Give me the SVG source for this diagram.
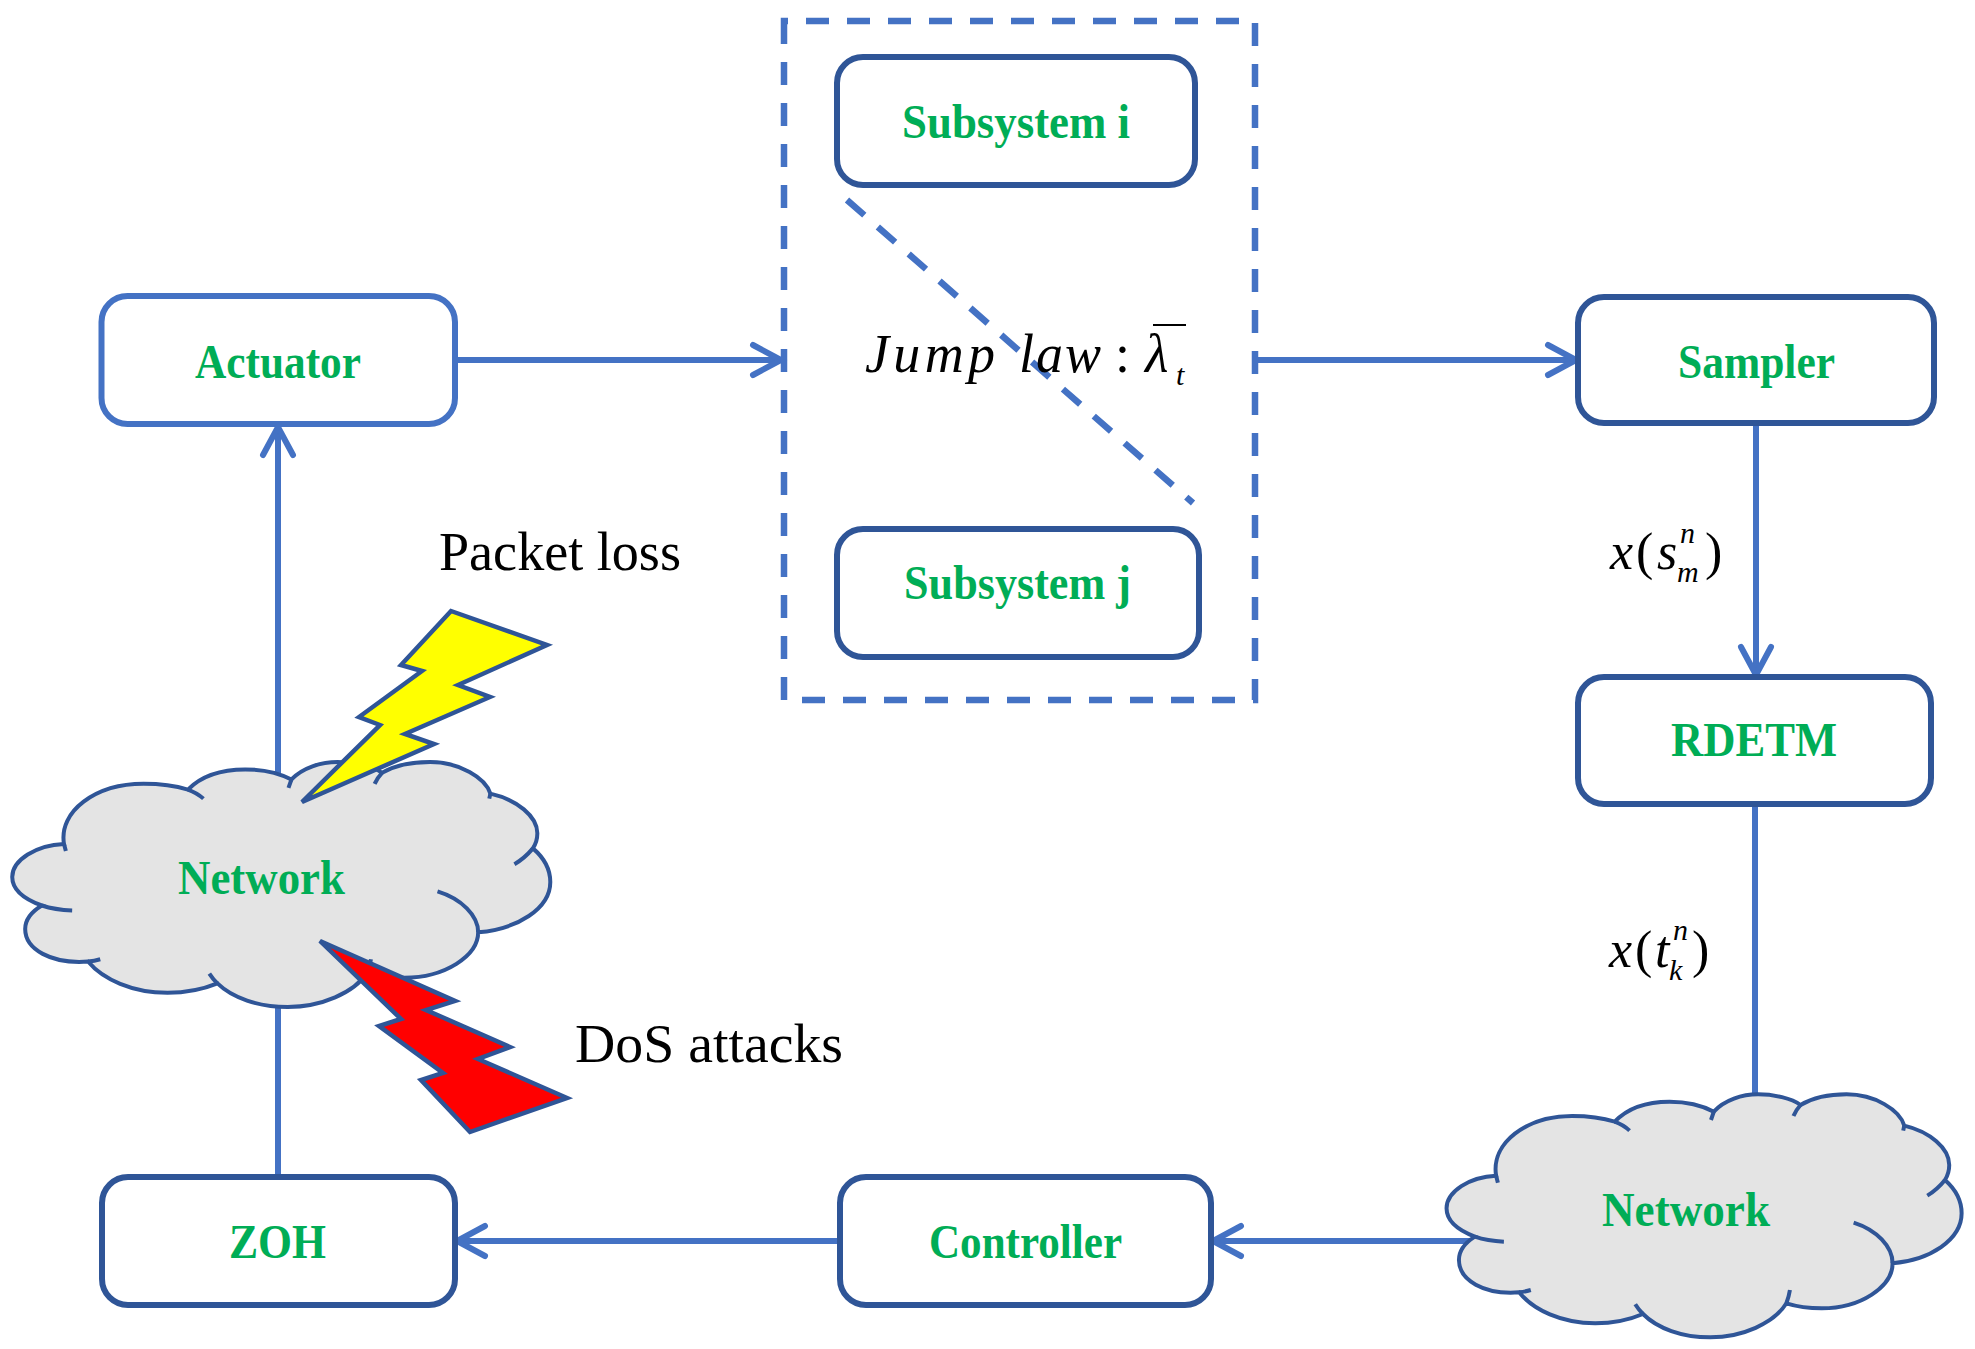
<svg xmlns="http://www.w3.org/2000/svg" width="1975" height="1349" viewBox="0 0 1975 1349">
<style>
.box{fill:#fff;stroke:#2F5597;stroke-width:6}
.box2{fill:#fff;stroke:#4472C4;stroke-width:6}
.lbl{font-family:"Liberation Serif","Times New Roman",serif;font-weight:bold;font-size:48px;fill:#00AD56}
.blk{font-family:"Liberation Serif","Times New Roman",serif;font-size:55px;fill:#000}
.math{font-family:"Liberation Serif","Times New Roman",serif;font-style:italic;fill:#000}
.conn{fill:none;stroke:#4472C4;stroke-width:6}
.dash{fill:none;stroke:#4472C4;stroke-width:6.500;stroke-dasharray:23 18}
.bolt{stroke:#2F5597;stroke-width:4.500;stroke-linejoin:miter}
.cloudfill{fill:#E4E4E4;stroke:#2F5597;stroke-width:4;vector-effect:non-scaling-stroke}
.cloudline{fill:none;stroke:#2F5597;stroke-width:4;vector-effect:non-scaling-stroke}
</style>
<defs>
<marker id="open" markerUnits="userSpaceOnUse" markerWidth="44" markerHeight="44" viewBox="-36 -22 44 44" refX="0" refY="0" orient="auto">
<path d="M-28,-15 L0,0 L-28,15" fill="none" stroke="#4472C4" stroke-width="6" stroke-linecap="round" stroke-linejoin="miter"/>
</marker>
<g id="cloud">
<path class="cloudfill" d="M155,530C105,510 75,480 75,445C75,395 140,350 215,347C200,250 300,168 430,168C480,168 520,175 550,185C590,140 650,125 705,125C755,125 800,138 830,155C860,120 910,103 955,103C1000,103 1050,115 1075,135C1110,113 1160,103 1205,103C1285,103 1355,150 1368,197C1440,215 1495,265 1495,315C1495,330 1490,348 1483,360C1515,390 1530,425 1530,460C1530,540 1440,600 1335,610C1335,680 1245,745 1135,745C1100,745 1065,740 1035,730C1000,790 910,832 820,832C740,832 670,805 630,762C590,780 540,790 495,790C400,790 320,750 280,697C180,705 110,660 110,600C110,575 125,550 155,530Z"/>
<path class="cloudline" d="M155,530Q190,543 237,545M215,347L220,368M550,185Q575,195 592,212M830,155L822,180M1075,135Q1062,150 1055,168M1368,197L1365,212M1483,360Q1460,390 1433,407M1335,610C1335,560 1290,510 1225,488M1035,730Q1042,710 1045,690M630,762Q618,750 608,733M280,697Q297,695 313,690"/>
</g>
</defs>
<rect width="1975" height="1349" fill="#fff"/>
<g id="connectors">
<path class="conn" d="M455,360H781" marker-end="url(#open)"/>
<path class="conn" d="M1255,360H1576" marker-end="url(#open)"/>
<path class="conn" d="M1756,423V675" marker-end="url(#open)"/>
<path class="conn" d="M1755,804V1100"/>
<path class="conn" d="M1480,1241H1213" marker-end="url(#open)"/>
<path class="conn" d="M840,1241H457" marker-end="url(#open)"/>
<path class="conn" d="M278,1177V1000"/>
<path class="conn" d="M278,800V427" marker-end="url(#open)"/>
</g>
<g id="jump-group">
<rect class="dash" x="784" y="21" width="471" height="679" stroke-dashoffset="19"/>
<path class="dash" d="M847,200L1193,503"/>
</g>
<g id="subsystem-i"><rect class="box" x="837" y="57" width="358" height="128" rx="26"/><text class="lbl" x="902" y="138" textLength="228" lengthAdjust="spacingAndGlyphs">Subsystem i</text></g>
<g id="subsystem-j"><rect class="box" x="837" y="529" width="362" height="128" rx="26"/><text class="lbl" x="904" y="599" textLength="227" lengthAdjust="spacingAndGlyphs">Subsystem j</text></g>
<g id="actuator"><rect class="box2" x="101.500" y="296" width="353.500" height="128" rx="26"/><text class="lbl" x="195" y="378" textLength="166" lengthAdjust="spacingAndGlyphs">Actuator</text></g>
<g id="sampler"><rect class="box" x="1578" y="297" width="356" height="126" rx="26"/><text class="lbl" x="1678" y="378" textLength="157" lengthAdjust="spacingAndGlyphs">Sampler</text></g>
<g id="rdetm"><rect class="box" x="1578" y="677" width="353" height="127" rx="26"/><text class="lbl" x="1671" y="756" textLength="166" lengthAdjust="spacingAndGlyphs">RDETM</text></g>
<g id="zoh"><rect class="box" x="102" y="1177" width="353" height="128" rx="26"/><text class="lbl" x="229" y="1258" textLength="97" lengthAdjust="spacingAndGlyphs">ZOH</text></g>
<g id="controller"><rect class="box" x="840" y="1177" width="371" height="128" rx="26"/><text class="lbl" x="929" y="1258" textLength="193" lengthAdjust="spacingAndGlyphs">Controller</text></g>
<g id="network-left"><use href="#cloud" transform="translate(-15.500,727.400) scale(0.3698,0.336)"/><text class="lbl" x="178" y="894" textLength="167" lengthAdjust="spacingAndGlyphs">Network</text></g>
<g id="network-right"><use href="#cloud" transform="translate(1420,1060) scale(0.354,0.3333)"/><text class="lbl" x="1602" y="1226" textLength="168" lengthAdjust="spacingAndGlyphs">Network</text></g>
<g id="packet-loss-bolt"><polygon class="bolt" fill="#FFFF00" points="451,611 547,645 458,685 490,697 405,734 434,744 302,802 380,725 359,717 422,671 401,665"/></g>
<g id="dos-bolt"><polygon class="bolt" fill="#FF0000" points="320,941 455,1001 426,1010 510,1047 478,1059 567,1098 470,1132 421,1080 443,1073 379,1026 401,1019"/></g>
<text class="blk" x="439" y="570" textLength="242" lengthAdjust="spacingAndGlyphs">Packet loss</text>
<text class="blk" x="575" y="1062" textLength="268" lengthAdjust="spacingAndGlyphs">DoS attacks</text>
<g id="jump-law">
<text class="math" font-size="54" y="372"><tspan x="865" textLength="130" lengthAdjust="spacing">Jump</tspan><tspan x="1019" textLength="82" lengthAdjust="spacing">law</tspan><tspan x="1115" font-style="normal">:</tspan><tspan x="1145">λ</tspan><tspan x="1176" y="385" font-size="30">t</tspan></text>
<line x1="1153" y1="325" x2="1186" y2="325" stroke="#000" stroke-width="2"/>
</g>
<text class="math" font-size="52" y="569"><tspan x="1610">x</tspan><tspan x="1636" font-style="normal">(</tspan><tspan x="1657">s</tspan><tspan x="1680" y="543" font-size="30">n</tspan><tspan x="1677" y="582" font-size="30">m</tspan><tspan x="1705" y="569" font-style="normal">)</tspan></text>
<text class="math" font-size="52" y="967"><tspan x="1609">x</tspan><tspan x="1635" font-style="normal">(</tspan><tspan x="1655">t</tspan><tspan x="1673" y="940" font-size="30">n</tspan><tspan x="1669" y="980" font-size="30">k</tspan><tspan x="1692" y="967" font-style="normal">)</tspan></text>
</svg>
